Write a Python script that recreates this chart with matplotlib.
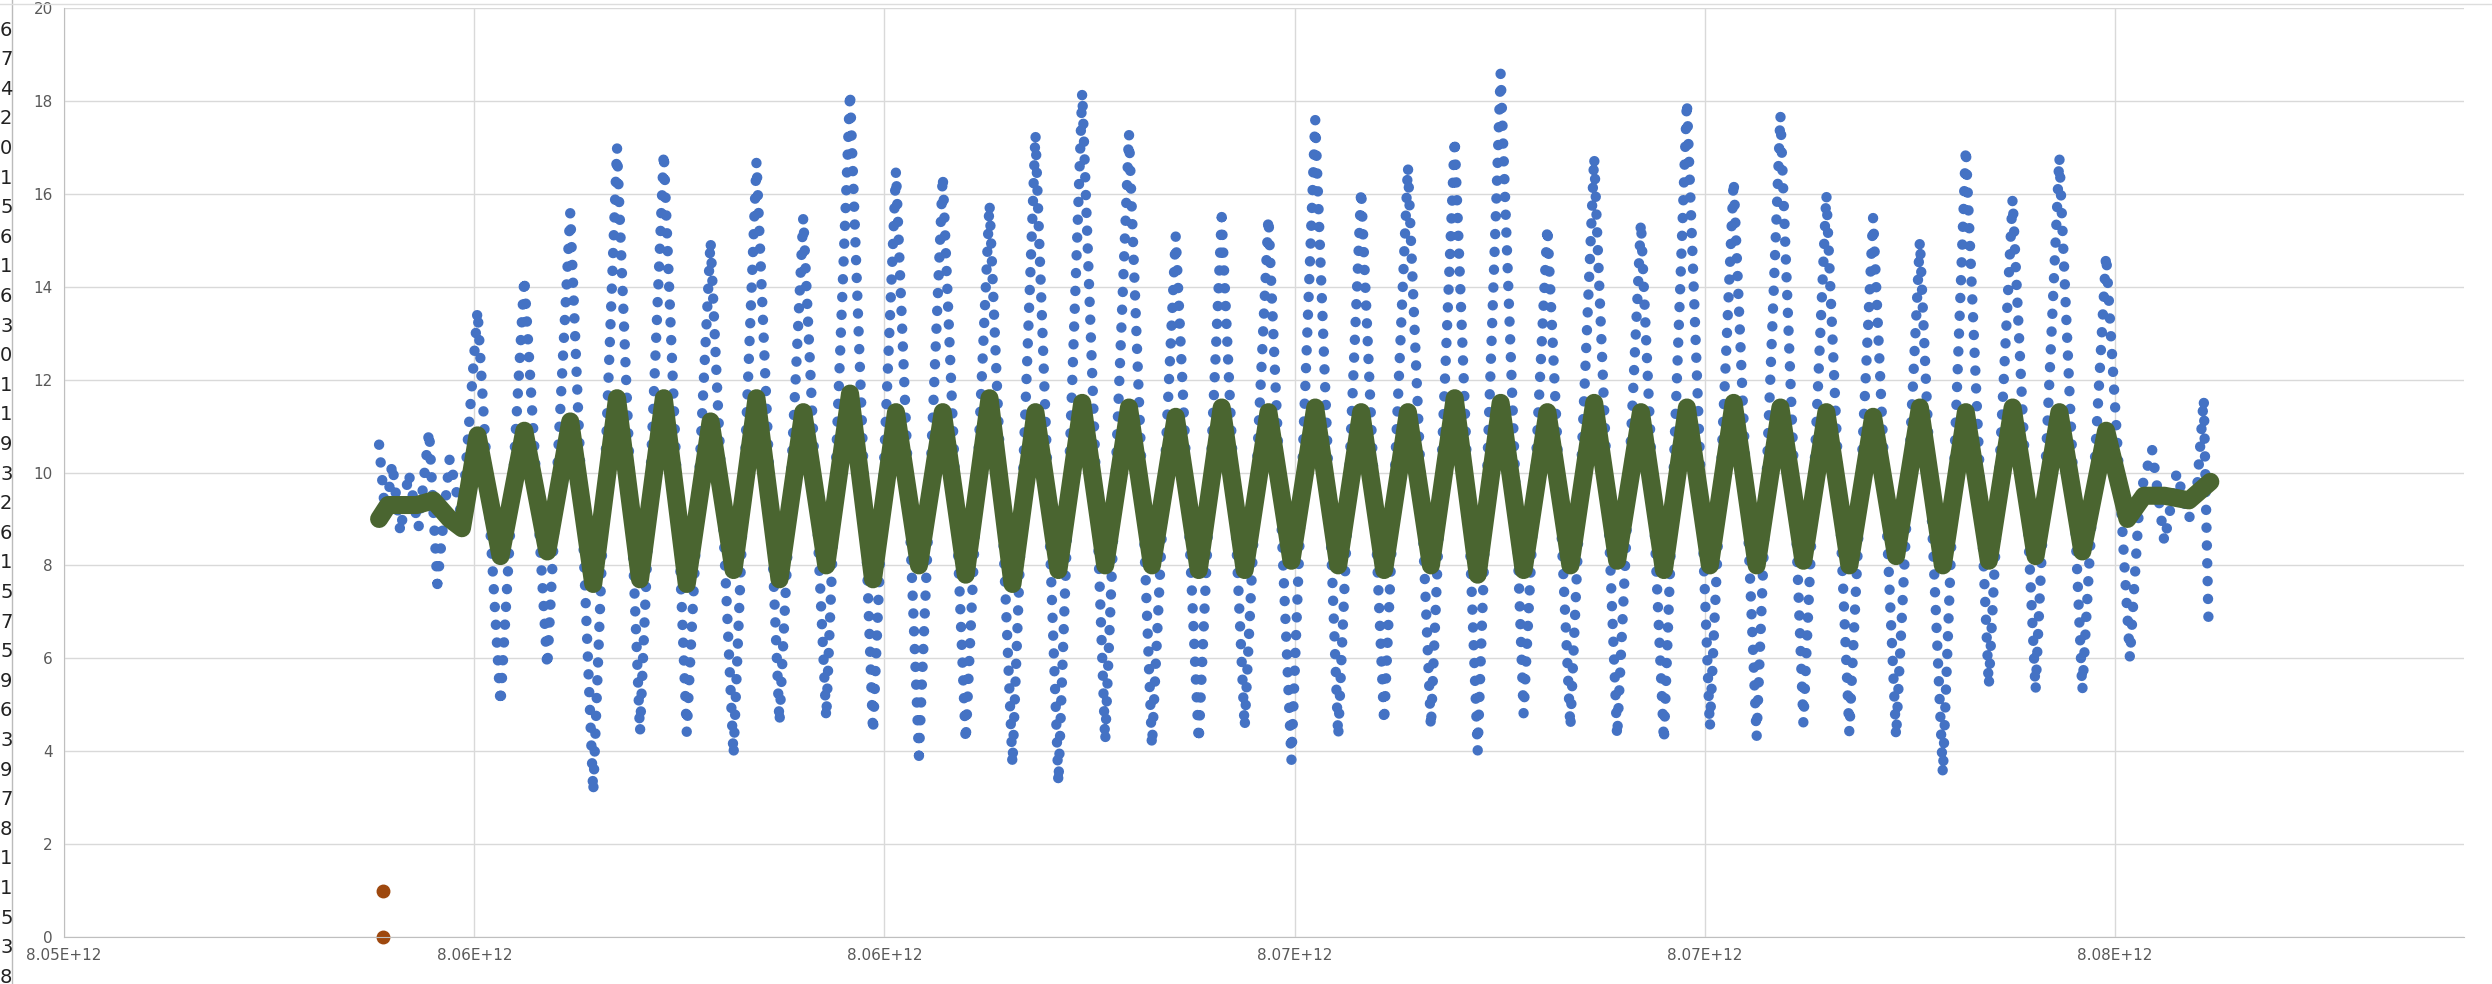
import matplotlib
matplotlib.use("Agg")
import matplotlib.pyplot as plt
import numpy as np

# x positions (units of 1e12)
peak_x = [8.05504,8.05561,8.05617,8.05674,8.05731,8.05788,8.05844,8.05901,8.05958,8.06014,
          8.06071,8.06128,8.06184,8.06241,8.06298,8.06355,8.06411,8.06468,8.06525,8.06581,
          8.06638,8.06695,8.06751,8.06808,8.06865,8.06922,8.06978,8.07035,8.07092,8.07148,
          8.07205,8.07262,8.07318,8.07375,8.07432,8.07489]
trough_x = [8.05532,8.05589,8.05645,8.05702,8.05759,8.05816,8.05872,8.05929,8.05986,8.06042,
            8.06099,8.06156,8.06212,8.06269,8.06326,8.06383,8.06439,8.06496,8.06553,8.06609,
            8.06666,8.06723,8.06779,8.06836,8.06893,8.06950,8.07006,8.07063,8.07120,8.07176,
            8.07233,8.07290,8.07346,8.07403,8.07460]

green_peaks = [10.8,10.9,11.1,11.6,11.6,11.1,11.6,11.3,11.7,11.3,11.3,11.6,11.3,11.5,11.4,11.2,11.4,11.3,
               11.4,11.3,11.3,11.6,11.5,11.3,11.5,11.3,11.4,11.5,11.4,11.3,11.2,11.4,11.3,11.4,11.3,10.9]
green_troughs = [8.2,8.3,7.6,7.7,7.6,7.9,7.7,8.0,7.7,8.0,7.8,7.6,7.9,8.0,8.0,7.9,7.9,8.1,8.0,7.9,8.0,7.8,
                 7.9,8.0,8.1,7.9,8.0,8.0,8.1,8.0,8.2,8.0,8.1,8.2,8.3]
green_pre_x = [8.05384,8.05395,8.05430,8.05450,8.05470,8.05485]
green_pre_y = [9.0,9.3,9.3,9.4,9.0,8.8]
green_post_x = [8.07515,8.07535,8.07560,8.07590,8.07616]
green_post_y = [9.0,9.5,9.5,9.4,9.8]

blue_peaks = [13.5,14.2,15.6,17.0,16.9,15.0,16.7,15.5,18.2,16.5,16.4,15.8,17.3,18.2,17.3,15.1,15.5,15.5,
              17.6,16.1,16.6,17.2,18.6,15.3,16.8,15.4,18.0,16.3,17.7,16.0,15.5,15.0,17.0,15.9,16.8,14.7]
blue_troughs = [5.0,5.8,3.1,4.4,4.4,3.9,4.6,4.7,4.4,3.9,4.2,3.7,3.3,4.2,4.1,4.2,4.5,3.8,4.3,4.6,4.5,4.0,
                4.8,4.5,4.3,4.2,4.5,4.3,4.6,4.4,4.3,3.5,5.4,5.3,5.3]
blue_pre_x = [8.05384,8.05392,8.05400,8.05410,8.05420,8.05432,8.05445,8.05455,8.05470,8.05485]
blue_pre_y = [10.6,9.0,10.2,8.7,10.0,8.8,10.9,7.6,10.3,9.0]
blue_post_x = [8.07518,8.07530,8.07545,8.07560,8.07575,8.07590,8.07600,8.07608,8.07614]
blue_post_y = [6.0,9.5,10.5,8.5,10.0,9.0,9.7,11.6,6.6]

brown_x = [8.05389, 8.05389]
brown_y = [1.0, 0.0]

xtick_vals = [8.050, 8.055, 8.060, 8.065, 8.070, 8.075]
xtick_labels = ["8.05E+12","8.06E+12","8.06E+12","8.07E+12","8.07E+12","8.08E+12"]
side_digits = list("674201561630119326157596397811538")

def zig(px, py, tx, ty, prex, prey, postx, posty):
    xs, ys = list(prex), list(prey)
    for i in range(len(px)):
        xs.append(px[i]); ys.append(py[i])
        if i < len(tx):
            xs.append(tx[i]); ys.append(ty[i])
    xs += postx; ys += posty
    return xs, ys

fig = plt.figure(figsize=(24.92, 9.84), dpi=100)
ax = fig.add_axes([0.0257, 0.0478, 0.963, 0.944])

bx, by = zig(peak_x, blue_peaks, trough_x, blue_troughs, blue_pre_x, blue_pre_y, blue_post_x, blue_post_y)
ax.plot(bx, by, color="#4472C4", lw=7.5, linestyle=(0, (0.01, 1.7)), dash_capstyle="round")
gx, gy = zig(peak_x, green_peaks, trough_x, green_troughs, green_pre_x, green_pre_y, green_post_x, green_post_y)
ax.plot(gx, gy, color="#4A6530", lw=13, solid_joinstyle="round", solid_capstyle="round")
ax.plot(brown_x, brown_y, "o", color="#9E480E", ms=9, clip_on=False)

ax.set_xlim(8.050, 8.07925)
ax.set_ylim(0, 20)
ax.set_yticks(range(0, 21, 2))
ax.set_xticks(xtick_vals)
ax.set_xticklabels(xtick_labels)
ax.grid(True, color="#D9D9D9", lw=1)
ax.set_axisbelow(True)
for s in ["top", "right"]:
    ax.spines[s].set_visible(False)
for s in ["left", "bottom"]:
    ax.spines[s].set_color("#BFBFBF")
ax.tick_params(length=0, colors="#595959", labelsize=11, pad=8)

# spreadsheet remnants on the left (cut off by the window edge in the reference)
for i, d in enumerate(side_digits):
    fig.text(0.0, 1 - (30 + 29.6 * i) / 984, d, fontsize=14, ha="left", va="center", color="#222222")
fig.add_artist(plt.Line2D([12/2492, 12/2492], [0, 1], color="#BBBBBB", lw=1))
fig.add_artist(plt.Line2D([0, 1], [1 - 4/984, 1 - 4/984], color="#DDDDDD", lw=1))

fig.savefig("out.png", dpi=100, facecolor="white")
